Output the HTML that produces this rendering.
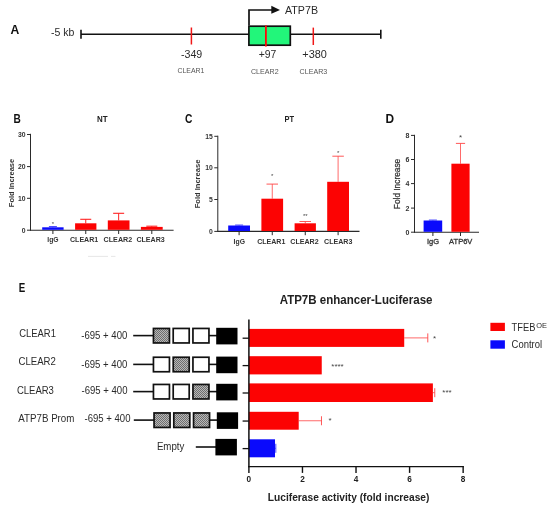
<!DOCTYPE html>
<html><head><meta charset="utf-8"><title>ATP7B figure</title>
<style>
html,body{margin:0;padding:0;background:#fff;}
body{width:550px;height:507px;overflow:hidden;}
svg{display:block;font-family:"Liberation Sans",sans-serif;filter:blur(0.35px);}
.b{font-weight:bold;}
</style></head><body>
<svg width="550" height="507" viewBox="0 0 550 507">
<defs>
<pattern id="dots" width="2" height="2" patternUnits="userSpaceOnUse">
<rect width="2" height="2" fill="#b8b8b8"/><rect width="1" height="1" fill="#6e6e6e"/><rect x="1" y="1" width="1" height="1" fill="#6e6e6e"/>
</pattern>
</defs>
<rect width="550" height="507" fill="#fff"/>

<text x="10.6" y="34.3" font-size="13.6" class="b" textLength="8.8" lengthAdjust="spacingAndGlyphs" fill="#111">A</text>
<text x="51" y="36" font-size="10.5" fill="#2a2a2a">-5 kb</text>
<line x1="81" y1="34.2" x2="381" y2="34.2" stroke="#111" stroke-width="1.6"/>
<line x1="81" y1="29.8" x2="81" y2="38.8" stroke="#111" stroke-width="1.6"/>
<line x1="380.8" y1="29.8" x2="380.8" y2="38.8" stroke="#111" stroke-width="1.6"/>
<rect x="248.9" y="26.2" width="41.4" height="19" fill="#22f67a" stroke="#111" stroke-width="1.7"/>
<polyline points="249,25.5 249,10 272,10" fill="none" stroke="#111" stroke-width="1.7"/>
<polygon points="271.3,5.8 280,9.9 271.3,13.8" fill="#111"/>
<text x="285" y="13.5" font-size="10.8" textLength="33" lengthAdjust="spacingAndGlyphs" fill="#2a2a2a">ATP7B</text>
<line x1="191.4" y1="27.5" x2="191.4" y2="44.5" stroke="#f01818" stroke-width="1.5"/>
<line x1="265.9" y1="25.5" x2="265.9" y2="46.5" stroke="#ff0808" stroke-width="1.8"/>
<line x1="313.3" y1="27.6" x2="313.3" y2="45" stroke="#f01818" stroke-width="1.5"/>
<text x="181" y="58.2" font-size="10.9" textLength="21.3" lengthAdjust="spacingAndGlyphs" fill="#2a2a2a">-349</text>
<text x="258.8" y="58.3" font-size="10.9" textLength="17.6" lengthAdjust="spacingAndGlyphs" fill="#2a2a2a">+97</text>
<text x="302.3" y="58.2" font-size="10.9" textLength="24.5" lengthAdjust="spacingAndGlyphs" fill="#2a2a2a">+380</text>
<text x="177.5" y="73.2" font-size="8" textLength="26.9" lengthAdjust="spacingAndGlyphs" fill="#555">CLEAR1</text>
<text x="251" y="73.5" font-size="8" textLength="27.6" lengthAdjust="spacingAndGlyphs" fill="#555">CLEAR2</text>
<text x="299.6" y="73.5" font-size="8" textLength="27.6" lengthAdjust="spacingAndGlyphs" fill="#555">CLEAR3</text>
<text x="13.6" y="123.3" font-size="13.6" class="b" textLength="7.3" lengthAdjust="spacingAndGlyphs" fill="#111">B</text>
<text x="96.9" y="121.8" font-size="8.6" class="b" textLength="10.6" lengthAdjust="spacingAndGlyphs" fill="#222">NT</text>
<line x1="30.5" y1="133.8" x2="30.5" y2="230.7" stroke="#2a2a2a" stroke-width="1"/>
<line x1="30.0" y1="230.2" x2="173.6" y2="230.2" stroke="#2a2a2a" stroke-width="1.1"/>
<line x1="27.0" y1="134.5" x2="30.5" y2="134.5" stroke="#2a2a2a" stroke-width="1"/>
<text x="25.5" y="137.1" font-size="6.8" text-anchor="end" class="b" fill="#333">30</text>
<line x1="27.0" y1="166.6" x2="30.5" y2="166.6" stroke="#2a2a2a" stroke-width="1"/>
<text x="25.5" y="169.2" font-size="6.8" text-anchor="end" class="b" fill="#333">20</text>
<line x1="27.0" y1="198.3" x2="30.5" y2="198.3" stroke="#2a2a2a" stroke-width="1"/>
<text x="25.5" y="200.9" font-size="6.8" text-anchor="end" class="b" fill="#333">10</text>
<line x1="27.0" y1="230.2" x2="30.5" y2="230.2" stroke="#2a2a2a" stroke-width="1"/>
<text x="25.5" y="232.79999999999998" font-size="6.8" text-anchor="end" class="b" fill="#333">0</text>
<line x1="52.900000000000006" y1="226.6" x2="52.900000000000006" y2="227.3" stroke="#44f" stroke-width="1.0"/>
<line x1="48.900000000000006" y1="226.6" x2="56.900000000000006" y2="226.6" stroke="#44f" stroke-width="1.1"/>
<rect x="42.2" y="227.3" width="21.4" height="2.4999999999999716" fill="#0a0afc"/>
<line x1="52.900000000000006" y1="230.2" x2="52.900000000000006" y2="234.0" stroke="#2a2a2a" stroke-width="1"/>
<text x="52.900000000000006" y="225.8" font-size="6" text-anchor="middle" fill="#444">*</text>
<line x1="85.75" y1="219.3" x2="85.75" y2="223.3" stroke="#f22" stroke-width="1.0"/>
<line x1="80.25" y1="219.3" x2="91.25" y2="219.3" stroke="#f22" stroke-width="1.1"/>
<rect x="75.1" y="223.3" width="21.30000000000001" height="6.499999999999972" fill="#fc0303"/>
<line x1="85.75" y1="230.2" x2="85.75" y2="234.0" stroke="#2a2a2a" stroke-width="1"/>
<line x1="118.65" y1="213.3" x2="118.65" y2="220.4" stroke="#f22" stroke-width="1.0"/>
<line x1="113.15" y1="213.3" x2="124.15" y2="213.3" stroke="#f22" stroke-width="1.1"/>
<rect x="107.8" y="220.4" width="21.700000000000003" height="9.399999999999977" fill="#fc0303"/>
<line x1="118.65" y1="230.2" x2="118.65" y2="234.0" stroke="#2a2a2a" stroke-width="1"/>
<line x1="151.8" y1="226.2" x2="151.8" y2="226.9" stroke="#f22" stroke-width="1.0"/>
<line x1="146.3" y1="226.2" x2="157.3" y2="226.2" stroke="#f22" stroke-width="1.1"/>
<rect x="140.9" y="226.9" width="21.799999999999983" height="2.8999999999999773" fill="#fc0303"/>
<line x1="151.8" y1="230.2" x2="151.8" y2="234.0" stroke="#2a2a2a" stroke-width="1"/>
<text x="47.3" y="242" font-size="7.2" class="b" textLength="11.3" lengthAdjust="spacingAndGlyphs" fill="#333">IgG</text>
<text x="70" y="242" font-size="7.2" class="b" textLength="28.2" lengthAdjust="spacingAndGlyphs" fill="#333">CLEAR1</text>
<text x="103.6" y="242" font-size="7.2" class="b" textLength="28.6" lengthAdjust="spacingAndGlyphs" fill="#333">CLEAR2</text>
<text x="136.4" y="242" font-size="7.2" class="b" textLength="28.4" lengthAdjust="spacingAndGlyphs" fill="#333">CLEAR3</text>
<text transform="translate(14.2,183) rotate(-90)" class="b" font-size="8.1" text-anchor="middle" textLength="48.4" lengthAdjust="spacingAndGlyphs" fill="#333">Fold Increase</text>
<line x1="88" y1="256.4" x2="108" y2="256.4" stroke="#ddd" stroke-width="0.7"/><line x1="111" y1="256.4" x2="115.5" y2="256.4" stroke="#ddd" stroke-width="0.7"/>
<text x="184.9" y="123.3" font-size="13.6" class="b" textLength="7.4" lengthAdjust="spacingAndGlyphs" fill="#111">C</text>
<text x="284.5" y="121.8" font-size="8.6" class="b" textLength="9.6" lengthAdjust="spacingAndGlyphs" fill="#222">PT</text>
<line x1="217.8" y1="135.7" x2="217.8" y2="231.9" stroke="#2a2a2a" stroke-width="1"/>
<line x1="217.3" y1="231.4" x2="359.5" y2="231.4" stroke="#2a2a2a" stroke-width="1.1"/>
<line x1="214.3" y1="136.3" x2="217.8" y2="136.3" stroke="#2a2a2a" stroke-width="1"/>
<text x="212.8" y="138.9" font-size="6.8" text-anchor="end" class="b" fill="#333">15</text>
<line x1="214.3" y1="167.8" x2="217.8" y2="167.8" stroke="#2a2a2a" stroke-width="1"/>
<text x="212.8" y="170.4" font-size="6.8" text-anchor="end" class="b" fill="#333">10</text>
<line x1="214.3" y1="199.5" x2="217.8" y2="199.5" stroke="#2a2a2a" stroke-width="1"/>
<text x="212.8" y="202.1" font-size="6.8" text-anchor="end" class="b" fill="#333">5</text>
<line x1="214.3" y1="231.4" x2="217.8" y2="231.4" stroke="#2a2a2a" stroke-width="1"/>
<text x="212.8" y="234.0" font-size="6.8" text-anchor="end" class="b" fill="#333">0</text>
<line x1="239.1" y1="225.0" x2="239.1" y2="225.5" stroke="#44f" stroke-width="0.8"/>
<line x1="235.1" y1="225.0" x2="243.1" y2="225.0" stroke="#44f" stroke-width="0.9"/>
<rect x="228.2" y="225.5" width="21.80000000000001" height="5.5" fill="#0a0afc"/>
<line x1="239.1" y1="231.4" x2="239.1" y2="235.20000000000002" stroke="#2a2a2a" stroke-width="1"/>
<line x1="272.25" y1="184.1" x2="272.25" y2="198.7" stroke="#f44" stroke-width="0.8"/>
<line x1="266.5" y1="184.1" x2="278.0" y2="184.1" stroke="#f44" stroke-width="0.9"/>
<rect x="261.4" y="198.7" width="21.700000000000045" height="32.30000000000001" fill="#fc0303"/>
<line x1="272.25" y1="231.4" x2="272.25" y2="235.20000000000002" stroke="#2a2a2a" stroke-width="1"/>
<text x="272.25" y="177.8" font-size="6" text-anchor="middle" fill="#444">*</text>
<line x1="305.25" y1="221.5" x2="305.25" y2="223.3" stroke="#f44" stroke-width="0.8"/>
<line x1="299.5" y1="221.5" x2="311.0" y2="221.5" stroke="#f44" stroke-width="0.9"/>
<rect x="294.6" y="223.3" width="21.299999999999955" height="7.699999999999989" fill="#fc0303"/>
<line x1="305.25" y1="231.4" x2="305.25" y2="235.20000000000002" stroke="#2a2a2a" stroke-width="1"/>
<text x="305.25" y="218.3" font-size="6" text-anchor="middle" fill="#444">**</text>
<line x1="338.1" y1="156.2" x2="338.1" y2="181.8" stroke="#f44" stroke-width="0.8"/>
<line x1="332.35" y1="156.2" x2="343.85" y2="156.2" stroke="#f44" stroke-width="0.9"/>
<rect x="327.2" y="181.8" width="21.80000000000001" height="49.19999999999999" fill="#fc0303"/>
<line x1="338.1" y1="231.4" x2="338.1" y2="235.20000000000002" stroke="#2a2a2a" stroke-width="1"/>
<text x="338.1" y="155.3" font-size="6" text-anchor="middle" fill="#444">*</text>
<text x="233.6" y="243.5" font-size="7.2" class="b" textLength="11.4" lengthAdjust="spacingAndGlyphs" fill="#333">IgG</text>
<text x="257.2" y="243.5" font-size="7.2" class="b" textLength="28.2" lengthAdjust="spacingAndGlyphs" fill="#333">CLEAR1</text>
<text x="290.3" y="243.5" font-size="7.2" class="b" textLength="28.4" lengthAdjust="spacingAndGlyphs" fill="#333">CLEAR2</text>
<text x="324.1" y="243.5" font-size="7.2" class="b" textLength="28.3" lengthAdjust="spacingAndGlyphs" fill="#333">CLEAR3</text>
<text transform="translate(199.7,184) rotate(-90)" class="b" font-size="8.1" text-anchor="middle" textLength="48.7" lengthAdjust="spacingAndGlyphs" fill="#333">Fold Increase</text>
<text x="385.5" y="123.3" font-size="13.6" class="b" textLength="8.6" lengthAdjust="spacingAndGlyphs" fill="#111">D</text>
<line x1="414.5" y1="134.8" x2="414.5" y2="232.7" stroke="#2a2a2a" stroke-width="1"/>
<line x1="414.0" y1="232.2" x2="479" y2="232.2" stroke="#2a2a2a" stroke-width="1.1"/>
<line x1="411.0" y1="135.4" x2="414.5" y2="135.4" stroke="#2a2a2a" stroke-width="1"/>
<text x="409.5" y="138.0" font-size="7" text-anchor="end" class="b" fill="#333">8</text>
<line x1="411.0" y1="159.5" x2="414.5" y2="159.5" stroke="#2a2a2a" stroke-width="1"/>
<text x="409.5" y="162.1" font-size="7" text-anchor="end" class="b" fill="#333">6</text>
<line x1="411.0" y1="183.6" x2="414.5" y2="183.6" stroke="#2a2a2a" stroke-width="1"/>
<text x="409.5" y="186.2" font-size="7" text-anchor="end" class="b" fill="#333">4</text>
<line x1="411.0" y1="208.1" x2="414.5" y2="208.1" stroke="#2a2a2a" stroke-width="1"/>
<text x="409.5" y="210.7" font-size="7" text-anchor="end" class="b" fill="#333">2</text>
<line x1="411.0" y1="232.2" x2="414.5" y2="232.2" stroke="#2a2a2a" stroke-width="1"/>
<text x="409.5" y="234.79999999999998" font-size="7" text-anchor="end" class="b" fill="#333">0</text>
<line x1="432.9" y1="220.0" x2="432.9" y2="220.5" stroke="#44f" stroke-width="0.8"/>
<line x1="428.9" y1="220.0" x2="436.9" y2="220.0" stroke="#44f" stroke-width="0.9"/>
<rect x="423.6" y="220.5" width="18.599999999999966" height="11.299999999999983" fill="#0a0afc"/>
<line x1="432.9" y1="232.2" x2="432.9" y2="236.0" stroke="#2a2a2a" stroke-width="1"/>
<line x1="460.5" y1="143.4" x2="460.5" y2="163.7" stroke="#f44" stroke-width="0.8"/>
<line x1="455.9" y1="143.4" x2="465.1" y2="143.4" stroke="#f44" stroke-width="0.9"/>
<rect x="451.4" y="163.7" width="18.200000000000045" height="68.1" fill="#fc0303"/>
<line x1="460.5" y1="232.2" x2="460.5" y2="236.0" stroke="#2a2a2a" stroke-width="1"/>
<text x="460.5" y="140.3" font-size="8" text-anchor="middle" fill="#444">*</text>
<text x="426.9" y="244.3" font-size="7.6" textLength="12.1" lengthAdjust="spacingAndGlyphs" fill="#333" stroke="#333" stroke-width="0.3">IgG</text>
<text x="449.1" y="244.3" font-size="7.6" textLength="23.3" lengthAdjust="spacingAndGlyphs" fill="#333" stroke="#333" stroke-width="0.3">ATP6V</text>
<text transform="translate(400,184) rotate(-90)" stroke="#333" stroke-width="0.25" font-size="8.4" text-anchor="middle" textLength="50.3" lengthAdjust="spacingAndGlyphs" fill="#333">Fold Increase</text>
<text x="18.7" y="291.5" font-size="13.6" class="b" textLength="6.5" lengthAdjust="spacingAndGlyphs" fill="#111">E</text>
<text x="279.7" y="303.6" font-size="12.2" class="b" textLength="152.8" lengthAdjust="spacingAndGlyphs" fill="#222">ATP7B enhancer-Luciferase</text>
<text x="19.2" y="336.8" font-size="10.4" textLength="36.7" lengthAdjust="spacingAndGlyphs" fill="#2a2a2a">CLEAR1</text>
<text x="81.3" y="338.8" font-size="10.4" textLength="46" lengthAdjust="spacingAndGlyphs" fill="#2a2a2a">-695 + 400</text>
<line x1="133.2" y1="335.6" x2="154" y2="335.6" stroke="#111" stroke-width="1.6"/>
<line x1="209" y1="335.6" x2="218" y2="335.6" stroke="#111" stroke-width="1.6"/>
<rect x="153.45000000000002" y="328.45000000000005" width="16" height="14.5" fill="url(#dots)" stroke="#111" stroke-width="1.7"/>
<rect x="173.20000000000002" y="328.45000000000005" width="16" height="14.5" fill="#fff" stroke="#111" stroke-width="1.7"/>
<rect x="192.95000000000002" y="328.45000000000005" width="16" height="14.5" fill="#fff" stroke="#111" stroke-width="1.7"/>
<rect x="216.2" y="327.8" width="21.3" height="16.6" fill="#000"/>
<text x="18.5" y="365.1" font-size="10.4" textLength="37.4" lengthAdjust="spacingAndGlyphs" fill="#2a2a2a">CLEAR2</text>
<text x="81.3" y="368.1" font-size="10.4" textLength="46" lengthAdjust="spacingAndGlyphs" fill="#2a2a2a">-695 + 400</text>
<line x1="133.2" y1="364.4" x2="154" y2="364.4" stroke="#111" stroke-width="1.6"/>
<line x1="209" y1="364.4" x2="218" y2="364.4" stroke="#111" stroke-width="1.6"/>
<rect x="153.45000000000002" y="357.25" width="16" height="14.5" fill="#fff" stroke="#111" stroke-width="1.7"/>
<rect x="173.20000000000002" y="357.25" width="16" height="14.5" fill="url(#dots)" stroke="#111" stroke-width="1.7"/>
<rect x="192.95000000000002" y="357.25" width="16" height="14.5" fill="#fff" stroke="#111" stroke-width="1.7"/>
<rect x="216.2" y="356.59999999999997" width="21.3" height="16.6" fill="#000"/>
<text x="16.9" y="393.5" font-size="10.4" textLength="37" lengthAdjust="spacingAndGlyphs" fill="#2a2a2a">CLEAR3</text>
<text x="81.5" y="393.7" font-size="10.4" textLength="46" lengthAdjust="spacingAndGlyphs" fill="#2a2a2a">-695 + 400</text>
<line x1="133.2" y1="391.6" x2="154" y2="391.6" stroke="#111" stroke-width="1.6"/>
<line x1="209" y1="391.6" x2="218" y2="391.6" stroke="#111" stroke-width="1.6"/>
<rect x="153.45000000000002" y="384.45000000000005" width="16" height="14.5" fill="#fff" stroke="#111" stroke-width="1.7"/>
<rect x="173.20000000000002" y="384.45000000000005" width="16" height="14.5" fill="#fff" stroke="#111" stroke-width="1.7"/>
<rect x="192.95000000000002" y="384.45000000000005" width="16" height="14.5" fill="url(#dots)" stroke="#111" stroke-width="1.7"/>
<rect x="216.2" y="383.8" width="21.3" height="16.6" fill="#000"/>
<text x="18.3" y="422" font-size="10.4" textLength="56.1" lengthAdjust="spacingAndGlyphs" fill="#2a2a2a">ATP7B Prom</text>
<text x="84.5" y="422" font-size="10.4" textLength="46" lengthAdjust="spacingAndGlyphs" fill="#2a2a2a">-695 + 400</text>
<line x1="133.79999999999998" y1="420.1" x2="154.6" y2="420.1" stroke="#111" stroke-width="1.6"/>
<line x1="209.6" y1="420.1" x2="218.6" y2="420.1" stroke="#111" stroke-width="1.6"/>
<rect x="154.05" y="412.95000000000005" width="16" height="14.5" fill="url(#dots)" stroke="#111" stroke-width="1.7"/>
<rect x="173.8" y="412.95000000000005" width="16" height="14.5" fill="url(#dots)" stroke="#111" stroke-width="1.7"/>
<rect x="193.55" y="412.95000000000005" width="16" height="14.5" fill="url(#dots)" stroke="#111" stroke-width="1.7"/>
<rect x="216.79999999999998" y="412.3" width="21.3" height="16.6" fill="#000"/>
<text x="156.9" y="449.5" font-size="10.4" textLength="27.5" lengthAdjust="spacingAndGlyphs" fill="#2a2a2a">Empty</text>
<line x1="195.8" y1="447" x2="217" y2="447" stroke="#111" stroke-width="1.6"/>
<rect x="215.4" y="438.9" width="21.5" height="16.5" fill="#000"/>
<line x1="404.22400000000005" y1="337.9" x2="427.7904" y2="337.9" stroke="#f44" stroke-width="0.8"/>
<line x1="427.7904" y1="333.4" x2="427.7904" y2="342.4" stroke="#f44" stroke-width="0.9"/>
<rect x="248.9" y="328.9" width="155.32400000000004" height="18.0" fill="#fc0303"/>
<line x1="242.6" y1="338.2" x2="248.9" y2="338.2" stroke="#111" stroke-width="1.3"/>
<rect x="248.9" y="356.2" width="72.8416" height="18.19999999999999" fill="#fc0303"/>
<line x1="242.6" y1="365.59999999999997" x2="248.9" y2="365.59999999999997" stroke="#111" stroke-width="1.3"/>
<line x1="432.8786" y1="392.7" x2="434.7532" y2="392.7" stroke="#f44" stroke-width="0.8"/>
<line x1="434.7532" y1="388.2" x2="434.7532" y2="397.2" stroke="#f44" stroke-width="0.9"/>
<rect x="248.9" y="383.4" width="183.9786" height="18.600000000000023" fill="#fc0303"/>
<line x1="242.6" y1="393.0" x2="248.9" y2="393.0" stroke="#111" stroke-width="1.3"/>
<line x1="298.7108" y1="420.75" x2="321.4738" y2="420.75" stroke="#f44" stroke-width="0.8"/>
<line x1="321.4738" y1="416.25" x2="321.4738" y2="425.25" stroke="#f44" stroke-width="0.9"/>
<rect x="248.9" y="411.8" width="49.8108" height="17.899999999999977" fill="#fc0303"/>
<line x1="242.6" y1="421.05" x2="248.9" y2="421.05" stroke="#111" stroke-width="1.3"/>
<line x1="275.0105" y1="448.3" x2="275.8139" y2="448.3" stroke="#33f" stroke-width="0.8"/>
<line x1="275.8139" y1="443.8" x2="275.8139" y2="452.8" stroke="#33f" stroke-width="0.9"/>
<rect x="248.9" y="439.3" width="26.110499999999973" height="18.0" fill="#0a0afc"/>
<line x1="242.6" y1="448.6" x2="248.9" y2="448.6" stroke="#111" stroke-width="1.3"/>
<text x="434.6" y="341.2" font-size="8" text-anchor="middle" fill="#444">*</text>
<text x="337.5" y="368.8" font-size="8" text-anchor="middle" fill="#444">****</text>
<text x="447" y="395" font-size="8" text-anchor="middle" fill="#444">***</text>
<text x="330" y="423.3" font-size="8" text-anchor="middle" fill="#444">*</text>
<line x1="248.9" y1="319.5" x2="248.9" y2="467.3" stroke="#111" stroke-width="1.5"/>
<line x1="248.20000000000002" y1="466.6" x2="463.84" y2="466.6" stroke="#111" stroke-width="1.4"/>
<line x1="248.9" y1="466.3" x2="248.9" y2="472.9" stroke="#111" stroke-width="1.4"/>
<text x="246.6" y="481.9" font-size="8.8" class="b" textLength="4.6" lengthAdjust="spacingAndGlyphs" fill="#222">0</text>
<line x1="302.46000000000004" y1="466.3" x2="302.46000000000004" y2="472.9" stroke="#111" stroke-width="1.4"/>
<text x="300.16" y="481.9" font-size="8.8" class="b" textLength="4.6" lengthAdjust="spacingAndGlyphs" fill="#222">2</text>
<line x1="356.02" y1="466.3" x2="356.02" y2="472.9" stroke="#111" stroke-width="1.4"/>
<text x="353.71999999999997" y="481.9" font-size="8.8" class="b" textLength="4.6" lengthAdjust="spacingAndGlyphs" fill="#222">4</text>
<line x1="409.58000000000004" y1="466.3" x2="409.58000000000004" y2="472.9" stroke="#111" stroke-width="1.4"/>
<text x="407.28000000000003" y="481.9" font-size="8.8" class="b" textLength="4.6" lengthAdjust="spacingAndGlyphs" fill="#222">6</text>
<line x1="463.14" y1="466.3" x2="463.14" y2="472.9" stroke="#111" stroke-width="1.4"/>
<text x="460.84" y="481.9" font-size="8.8" class="b" textLength="4.6" lengthAdjust="spacingAndGlyphs" fill="#222">8</text>
<text x="267.8" y="501.4" font-size="10.4" class="b" textLength="161.6" lengthAdjust="spacingAndGlyphs" fill="#222">Luciferase activity (fold increase)</text>
<rect x="490.4" y="322.8" width="14.5" height="8.2" fill="#fc0303"/>
<rect x="490.4" y="340.3" width="14.5" height="8.4" fill="#0a0afc"/>
<text x="511.6" y="331.1" font-size="10.2" textLength="23.8" lengthAdjust="spacingAndGlyphs" fill="#2a2a2a">TFEB</text>
<text x="536.3" y="327.5" font-size="7.6" textLength="10.7" lengthAdjust="spacingAndGlyphs" fill="#2a2a2a">OE</text>
<text x="511.6" y="347.7" font-size="10.2" textLength="30.5" lengthAdjust="spacingAndGlyphs" fill="#2a2a2a">Control</text>
</svg></body></html>
